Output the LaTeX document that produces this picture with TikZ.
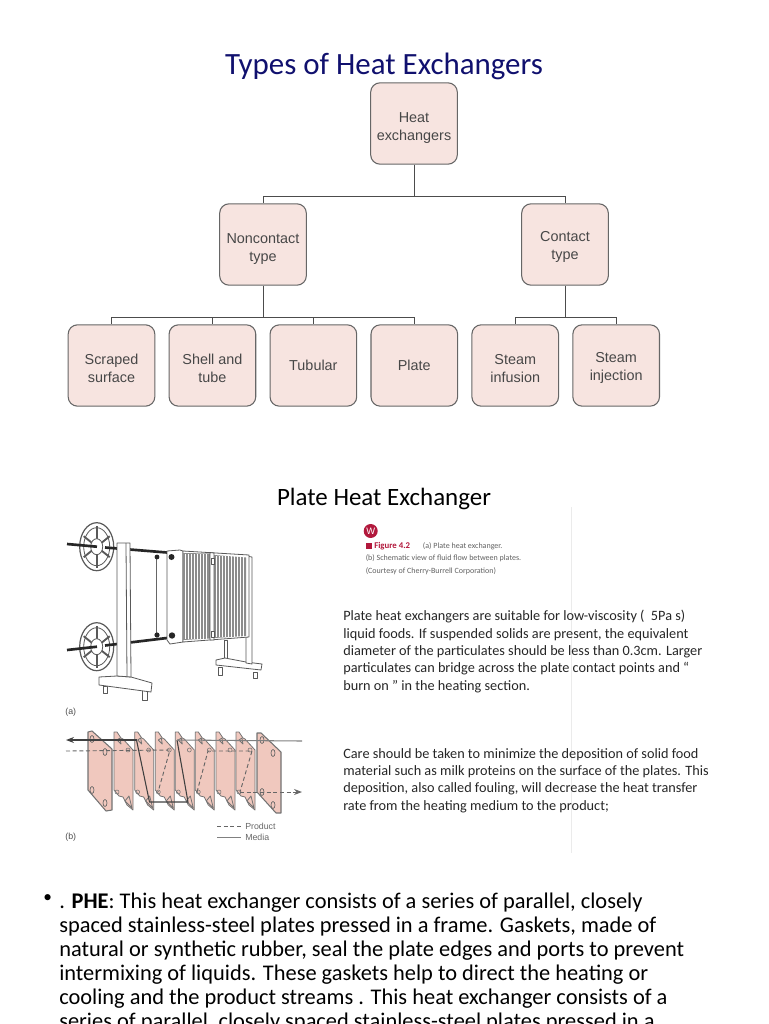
\documentclass[tikz,border=0pt]{standalone}
\usepackage{fontspec}
\setmainfont{Carlito}
\newfontfamily\boxfont{Liberation Sans}
\usepackage{tikz}
\usetikzlibrary{arrows.meta,positioning}
\definecolor{titleblue}{RGB}{16,16,110}
\definecolor{boxpink}{RGB}{247,228,224}
\definecolor{platepink}{RGB}{240,200,190}
\definecolor{capred}{RGB}{178,24,60}
\newcommand{\dropa}{\rule{0pt}{11.5pt}}
\newcommand{\dropb}{\rule{0pt}{14pt}}
\tikzset{
  kind/.style={draw=black!60, line width=0.8pt, rounded corners=7pt, fill=boxpink, minimum width=65pt, minimum height=61pt, inner sep=0pt, align=center, text=black!72, font=\boxfont\fontsize{10.8}{13.5}\selectfont},
  tree/.style={line width=0.7pt, draw=black!70},
  para/.style={anchor=north west, inner sep=0pt, align=left, text=black!85, font=\fontsize{10.7}{13}\selectfont},
  frameline/.style={draw=black!65, line width=0.6pt, fill=white, line join=round},
  rod/.style={line width=2pt, draw=black!85},
  plate/.style={draw=black!55, line width=0.6pt, fill=platepink, line join=round},
  media/.style={line width=0.8pt, draw=black!75},
  product/.style={line width=0.7pt, draw=black!60, densely dashed},
  flow/.style={-{Stealth[length=6pt]}},
  small/.style={text=black!60, font=\boxfont\fontsize{6.6}{8}\selectfont, inner sep=0pt},
  captext/.style={anchor=west, inner sep=0pt, text=black!62, font=\fontsize{6}{8}\selectfont}
}

\begin{document}
\begin{tikzpicture}[x=0.75pt, y=-0.75pt, node distance=9.9pt]
  \useasboundingbox (0,0) rectangle (768,1024);
  \clip (0,0) rectangle (768,1024);

  % headings
  \node[text=titleblue, font=\fontsize{23.2}{27}\selectfont, inner sep=0pt] (title) at (384,66) {Types of Heat Exchangers};
  \node[text=black, font=\fontsize{18.7}{22}\selectfont, inner sep=0pt] (platetitle) at (384,499) {Plate Heat Exchanger};

  % tree
  \node[kind] (scraped) at (111.5,365.5) {\dropa Scraped\\surface};
  \node[kind, right=of scraped] (shell) {\dropa Shell and\\tube};
  \node[kind, right=of shell] (tubular) {Tubular};
  \node[kind, right=of tubular] (plate) {Plate};
  \node[kind, right=of plate] (infusion) {\dropa Steam\\infusion};
  \node[kind, right=of infusion] (injection) {\dropa Steam\\injection};
  \node[kind] (noncontact) at (263,244.5) {\dropb Noncontact\\type};
  \node[kind] (contact) at (565,244.5) {\dropa Contact\\type};
  \node[kind] (heat) at (414,123.5) {\dropb Heat\\exchangers};

  \coordinate (topbus) at (414,196);
  \coordinate (leftbus) at (263,317);
  \coordinate (rightbus) at (565,317);
  \draw[tree] (heat.south) -- (topbus);
  \draw[tree] (topbus) -| (noncontact.north);
  \draw[tree] (topbus) -| (contact.north);
  \draw[tree] (noncontact.south) -- (leftbus);
  \draw[tree] (leftbus) -| (scraped.north);
  \draw[tree] (leftbus) -| (shell.north);
  \draw[tree] (leftbus) -| (tubular.north);
  \draw[tree] (leftbus) -| (plate.north);
  \draw[tree] (contact.south) -- (rightbus);
  \draw[tree] (rightbus) -| (infusion.north);
  \draw[tree] (rightbus) -| (injection.north);

  % caption and text
  \draw[black!8, line width=0.6pt] (571,507) -- (571,853);
  \node[circle, fill=capred, text=white, inner sep=0pt, minimum size=10.5pt, font=\boxfont\fontsize{7}{8}\selectfont] (wmark) at (370.7,531) {W};
  \fill[capred] (365.5,543) rectangle (372,549);
  \node[captext, text=capred, font=\bfseries\fontsize{6.6}{8}\selectfont] (figno) at (374,546) {Figure 4.2};
  \node[captext] (capa) at (422.7,546) {(a) Plate heat exchanger.};
  \node[captext] (capb) at (365.5,558.7) {(b) Schematic view of fluid flow between plates.};
  \node[captext] (capc) at (365.5,571.7) {(Courtesy of Cherry-Burrell Corporation)};

  \node[para] (para1) at (343,610) {Plate heat exchangers are suitable for low-viscosity ( \ 5Pa s)\\liquid foods. If suspended solids are present, the equivalent\\diameter of the particulates should be less than 0.3cm. Larger\\particulates can bridge across the plate contact points and ``\\burn on '' in the heating section.};
  \node[para] (para2) at (343,748) {Care should be taken to minimize the deposition of solid food\\material such as milk proteins on the surface of the plates. This\\deposition, also called fouling, will decrease the heat transfer\\rate from the heating medium to the product;};
  \node[anchor=north west, inner sep=0pt, font=\fontsize{13}{18}\selectfont] (bullet) at (43,894) {•};
  \node[para, text=black, font=\fontsize{16.8}{18}\selectfont] (phe) at (59,893) {. \textbf{PHE}: This heat exchanger consists of a series of parallel, closely\\spaced stainless-steel plates pressed in a frame. Gaskets, made of\\natural or synthetic rubber, seal the plate edges and ports to prevent\\intermixing of liquids. These gaskets help to direct the heating or\\cooling and the product streams . This heat exchanger consists of a\\series of parallel, closely spaced stainless-steel plates pressed in a};

  % machine (a)
  \foreach \wy in {546.7,646.7} {
    \draw[frameline, line width=0.9pt] (96.7,\wy) ellipse (17 and 24);
    \draw[frameline] (96.7,\wy) ellipse (13 and 19);
    \foreach \sa in {30,90,150,210,270,330}
      \draw[black!65, line width=1.4pt] (96.7,\wy) -- ++({15*cos(\sa)},{21*sin(\sa)});
    \draw[frameline] (96.7,\wy) ellipse (6 and 8);
  }
  \draw[rod] (67,544) -- (97,546.7);
  \draw[rod] (67,650) -- (97,646.7);
  \draw[rod] (105,547.5) -- (167,552.5);
  \draw[rod] (105,645.5) -- (167,638);
  % base and post
  \draw[frameline] (103,686) -- (103,693) -- (107,693) -- (107,686) -- cycle;
  \draw[frameline] (142,690) -- (142,700) -- (147,700) -- (147,690) -- cycle;
  \draw[frameline] (99,677) -- (117,676) -- (131,677) -- (152,683) -- (151,692) -- (99,685) -- cycle;
  \draw[frameline] (117,543) -- (130,543) -- (131,677) -- (117,676) -- cycle;
  \draw[black!65, line width=0.6pt] (126,543) -- (127,677);
  % rear support
  \draw[frameline] (224,640) -- (227,640) -- (227,659) -- (224,659) -- cycle;
  \draw[frameline] (218,667) -- (222,667) -- (222,675) -- (218,675) -- cycle;
  \draw[frameline] (253,672) -- (257,672) -- (257,678) -- (253,678) -- cycle;
  \draw[frameline] (216,660) -- (225,658) -- (246,662) -- (262,664) -- (261,670) -- (216,665) -- cycle;
  \draw[frameline] (246,556) -- (252,557) -- (252,664) -- (246,663) -- cycle;
  % thin plate and bolts
  \draw[black!60, line width=0.6pt] (156,556) -- (156,635);
  \fill[black!85] (157,557) circle (2.4);
  \fill[black!85] (157,635) circle (2.6);
  % plate pack
  \draw[frameline] (167,551) -- (180,550) -- (183,551) -- (183,642) -- (170,644) -- (167,640) -- cycle;
  \fill[black!85] (171.5,557) circle (3);
  \fill[black!85] (172,635.5) circle (3.2);
  \draw[frameline] (183,551) -- (249,555) -- (249,637) -- (183,642) -- cycle;
  \fill[black!45] (183,553) -- (210,553.5) -- (210,638.5) -- (183,640) -- cycle;
  \fill[black!45] (214,555) -- (246,557.5) -- (246,636) -- (214,638) -- cycle;
  \foreach \hx in {185,188,...,208} \draw[white, line width=0.3pt] (\hx,553.5) -- (\hx,639);
  \foreach \hx in {216,219,...,244} \draw[white, line width=0.3pt] (\hx,556) -- (\hx,637);
  \draw[frameline] (210,552.5) -- (214,553) -- (214,640) -- (210,640) -- cycle;
  \draw[frameline] (211,558) -- (214,558) -- (214,564) -- (211,564) -- cycle;
  \draw[frameline] (211,631) -- (214,631) -- (214,637) -- (211,637) -- cycle;
  \node[small, text=black!70] (labela) at (70.7,712.7) {(a)};

  % plates (b)
  \foreach \px in {114,134.7,155.3,175.3,195.3,216,236} {
    \draw[plate, xshift=\px*0.75pt] (0,732) -- (3,732) -- (7,738) -- (9,739) -- (19,750) -- (19,810) -- (13,805) -- (9,797) -- (5,796) -- (0,790) -- cycle;
    \draw[plate, xshift=\px*0.75pt] (3,740) -- (6,738) -- (7,744) -- cycle;
    \draw[plate, xshift=\px*0.75pt] (11,801) -- (15,796) -- (18,808) -- cycle;
    \draw[black!55, line width=0.4pt, xshift=\px*0.75pt] (14,750) circle (2);
    \draw[black!55, line width=0.4pt, xshift=\px*0.75pt] (3,792) circle (2);
  }
  \draw[plate, line width=0.8pt] (88,732) -- (92,731) -- (112,749) -- (112,810) -- (106,811) -- (88,790) -- cycle;
  \draw[plate, line width=0.8pt] (257,733) -- (261,733) -- (281,752) -- (281,813) -- (276,813) -- (257,792) -- cycle;
  \foreach \hx/\hy in {92/739,105/752,92/790,105/803,262/740,273/753,262/792,273/805}
    \draw[black!60, line width=0.5pt] (\hx,\hy) ellipse (2 and 3.5);

  \coordinate (mediaout) at (66,740);
  \coordinate (mediaa) at (136.5,740);
  \coordinate (mediab) at (149.5,802);
  \coordinate (mediac) at (188,802);
  \coordinate (mediad) at (177,740);
  \coordinate (mediain) at (302,741);
  \coordinate (proda) at (66,751);
  \coordinate (prodb) at (170,750);
  \coordinate (prodc) at (158,792);
  \coordinate (prodd) at (197,792);
  \coordinate (prode) at (208,751);
  \coordinate (prodf) at (252,751);
  \coordinate (prodg) at (240,792);
  \coordinate (prodout) at (302,792);
  \draw[media, flow] (mediaa) -- (mediaout);
  \draw[media] (mediaa) -- (mediab) -- (mediac) -- (mediad);
  \draw[media, black!50] (mediad) -- (mediain);
  \draw[product] (proda) -- (prodb) -- (prodc);
  \draw[product] (prodd) -- (prode) -- (prodf) -- (prodg);
  \draw[product, flow] (prodg) -- (prodout);

  \coordinate (legenda) at (217,826);
  \coordinate (legendb) at (241,826);
  \coordinate (legendc) at (217,837.5);
  \coordinate (legendd) at (241,837.5);
  \draw[product] (legenda) -- (legendb);
  \draw[media, black!50] (legendc) -- (legendd);
  \node[small, anchor=west] (legendproduct) at (245,826) {Product};
  \node[small, anchor=west] (legendmedia) at (245,837.5) {Media};
  \node[small, text=black!70] (labelb) at (70.7,837.7) {(b)};
\end{tikzpicture}
\end{document}
